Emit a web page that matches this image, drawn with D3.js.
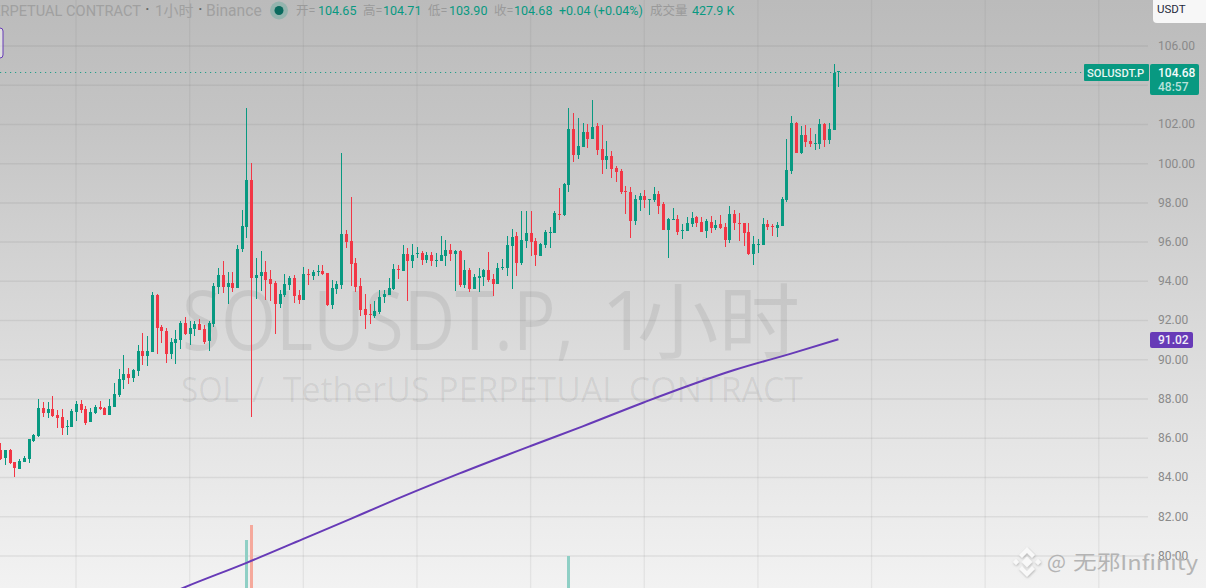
<!DOCTYPE html>
<html><head><meta charset="utf-8">
<script src="https://cdn.jsdelivr.net/npm/d3@7/dist/d3.min.js"></script>
<style>html,body{margin:0;padding:0;overflow:hidden;background:#eee}svg{display:block}</style>
</head><body><div id="chart"></div>
<script>
const firstIndex = -1;
const opens = [85.36,
84.97,85.36,84.75,84.42,84.75,84.90,85.82,86.07,87.50,87.25,
87.45,87.15,87.04,86.55,86.53,87.30,87.71,87.45,86.79,87.25,
87.55,87.50,87.15,87.55,88.17,88.93,89.24,89.04,89.39,90.41,
90.16,90.36,93.27,91.64,91.44,90.26,90.82,90.98,91.84,91.28,
91.54,91.79,91.54,90.92,91.80,93.67,94.28,93.67,93.88,93.62,
95.61,96.74,99.14,94.13,94.23,94.44,94.08,93.88,92.80,93.26,
93.77,94.13,93.26,93.01,94.34,94.23,94.44,94.49,94.39,92.75,
93.57,93.77,96.38,96.02,94.90,93.72,92.55,92.29,92.19,92.40,
93.16,93.26,93.57,94.59,94.49,95.36,95.00,95.36,95.40,95.05,
95.30,94.99,94.99,95.25,95.56,95.35,95.51,93.77,94.54,93.57,
94.13,94.18,94.54,94.08,93.82,94.64,94.64,95.76,96.27,94.89,
96.02,96.42,96.02,95.25,95.81,96.42,96.42,97.39,97.34,98.87,
101.73,100.40,100.81,101.58,101.22,101.88,100.71,100.15,100.35,99.74,
99.58,98.56,98.51,97.03,98.10,98.31,98.10,98.10,98.41,97.90,
96.57,97.08,97.13,96.52,96.52,96.88,97.24,96.98,96.52,96.98,
96.67,96.88,96.72,96.07,97.40,96.94,96.94,96.48,95.35,95.81,
95.81,96.89,96.78,96.68,96.78,98.11,99.59,102.04,100.51,101.43,
101.12,100.97,100.97,101.99,101.17,101.69,104.65];
const highs = [85.75,
85.39,85.41,84.75,84.93,85.05,85.92,86.18,87.96,87.81,87.81,
88.12,87.40,87.45,86.89,87.45,87.86,87.91,87.61,87.50,87.66,
87.86,87.55,87.96,88.78,89.50,90.21,89.55,89.50,90.72,91.33,
91.18,93.43,93.32,91.74,91.59,91.11,91.49,91.95,92.15,91.95,
91.95,92.05,91.74,91.95,93.88,94.64,95.00,94.44,94.44,95.82,
97.60,102.81,100.00,95.15,95.51,95.00,94.54,93.98,93.52,94.34,
94.23,94.28,93.52,94.69,94.59,94.54,94.80,94.80,94.39,94.03,
93.98,100.51,96.58,98.27,95.15,94.13,93.31,92.80,92.96,93.52,
93.52,94.13,94.85,94.80,95.82,95.66,95.87,95.71,95.51,95.45,
95.45,95.40,96.27,96.07,95.86,95.56,95.56,95.05,94.64,94.33,
94.64,94.59,95.45,94.33,94.89,95.10,96.27,96.63,96.48,97.55,
97.55,97.55,96.17,95.91,96.58,96.73,97.54,98.72,98.97,102.80,
102.55,102.29,102.04,101.98,103.21,102.04,101.93,101.12,100.61,99.84,
99.69,98.82,98.77,98.36,98.46,98.61,98.15,98.77,98.56,98.00,
97.18,97.69,97.34,96.88,97.24,97.49,97.29,97.24,97.13,97.29,
97.08,97.34,96.93,97.80,97.60,97.48,96.94,96.94,96.27,96.12,
97.19,97.09,96.89,96.99,98.26,101.23,102.40,102.09,101.89,101.94,
101.79,101.48,102.25,102.04,102.04,105.06,104.71];
const lows = [84.85,
84.59,84.66,84.00,84.39,84.75,84.71,85.78,86.02,87.04,86.99,
87.04,86.48,86.13,86.13,86.53,86.84,87.25,86.64,86.79,87.20,
87.40,87.15,87.15,87.55,88.07,88.47,88.73,88.83,89.14,89.70,
89.65,90.36,90.26,90.82,89.80,90.01,89.75,90.52,91.23,90.72,
91.18,91.49,90.77,90.41,91.65,93.31,93.37,92.80,93.42,93.62,
95.46,96.17,87.05,93.06,93.47,93.01,92.96,91.31,92.60,93.16,
93.52,92.85,92.80,93.01,93.77,94.03,94.23,94.28,92.70,92.55,
93.31,93.57,95.66,93.72,93.42,92.19,91.53,91.78,92.09,92.29,
92.85,93.26,93.52,94.08,94.49,92.96,94.64,95.15,94.79,94.89,
94.74,94.69,94.99,94.74,94.99,93.46,93.67,93.62,93.41,93.57,
93.41,93.72,93.92,93.21,93.82,94.54,94.23,93.57,94.23,94.79,
95.66,95.25,94.74,95.25,95.66,95.66,96.42,97.08,97.29,98.51,
100.04,100.20,100.81,100.76,101.22,100.40,99.43,99.69,99.23,99.02,
98.41,97.39,96.16,96.83,97.54,97.69,97.34,98.00,97.39,96.57,
95.19,97.08,96.32,96.11,96.52,96.72,96.72,96.47,96.16,96.42,
96.57,96.62,95.70,95.92,96.58,96.02,95.76,95.30,94.79,95.40,
95.81,96.58,96.27,96.22,96.78,98.01,99.44,100.51,100.46,100.82,
100.82,100.66,100.72,100.82,100.97,101.69,103.90];
const closes = [84.93,
85.36,84.71,84.44,84.80,84.95,85.92,86.13,87.50,87.25,87.45,
87.10,86.99,86.48,86.60,87.35,87.71,87.40,86.74,87.30,87.55,
87.45,87.15,87.61,88.22,88.98,89.24,89.04,89.44,90.41,90.16,
90.41,93.27,91.59,91.44,90.26,90.87,91.03,91.84,91.28,91.59,
91.79,91.49,90.87,91.84,93.72,94.28,93.67,93.88,93.62,95.61,
96.79,99.14,94.13,94.28,94.44,94.03,93.82,92.80,93.31,93.82,
94.13,93.21,93.01,94.34,94.28,94.44,94.49,94.34,92.75,93.62,
93.82,96.38,95.97,94.85,93.67,92.50,92.24,92.24,92.45,93.16,
93.31,93.62,94.59,94.54,95.36,95.00,95.31,95.41,95.05,95.30,
94.99,95.05,95.30,95.56,95.35,95.51,93.77,94.54,93.57,94.18,
94.23,94.54,94.02,93.82,94.64,94.69,95.81,96.22,94.89,96.07,
96.42,95.96,95.30,95.86,96.48,96.48,97.44,97.34,98.92,101.73,
100.40,100.86,101.58,101.22,101.83,100.66,100.15,100.35,99.69,99.53,
98.51,98.51,97.03,98.15,98.31,98.10,98.15,98.41,97.80,96.57,
97.13,97.13,96.47,96.57,96.93,97.18,96.93,96.47,97.03,96.67,
96.83,96.67,96.06,97.40,96.94,96.89,96.43,95.35,95.86,95.86,
96.89,96.73,96.73,96.83,98.16,99.64,102.04,100.51,101.43,101.07,
100.97,101.02,101.99,101.17,101.74,104.60,104.68];
const maIndex = [37,38,51,63,73,79,96,111,122,135,154,166,176];
const maValues = [78.28,78.38,79.62,80.84,81.86,82.49,84.18,85.58,86.58,87.81,89.45,90.29,91.02];
const volumeIndex = [51,52,119];
const volumeValues = [1100,1250,940];
const volumeUp = [true,false,true];
const priceTicks = [80,82,84,86,88,90,92,94,96,98,100,102,104,106];
const priceLabelled = [80,82,84,86,88,90,92,94,96,98,100,102,106];
const gridIndex = [15,39,63,87,111,135,159,183,207,231];
const legendParts = [
  ["开=",296,0],["104.65",318,1],["高=",363,0],["104.71",383,1],["低=",428,0],["103.90",449,1],
  ["收=",494,0],["104.68",514,1],["+0.04 (+0.04%)",559,1],["成交量",650,0],["427.9 K",692,1]
];

const W=1206,H=588,UP="#089981",DOWN="#f23645",MA="#673ab7";
const FONT="Roboto,'Noto Sans CJK SC',sans-serif";
const x=d3.scaleLinear().domain([0,176]).range([5,838.4]);
const y=d3.scaleLinear().domain([80,106]).range([555.4,45.5]);
const v=d3.scaleLinear().domain([0,1000]).range([650,550]);
const svg=d3.select("#chart").append("svg").attr("width",W).attr("height",H).attr("font-family",FONT);
const defs=svg.append("defs");
const grad=defs.append("linearGradient").attr("id","bg").attr("x1",0).attr("x2",0).attr("y1",0).attr("y2",1);
[[0,"#bbbbbb"],[.2,"#c4c4c4"],[.5,"#d6d6d6"],[.75,"#e5e5e5"],[1,"#f2f2f2"]].forEach(([o,c])=>grad.append("stop").attr("offset",o).attr("stop-color",c));
svg.append("rect").attr("width",W).attr("height",H).attr("fill","url(#bg)");

// vertical grid
svg.append("g").selectAll("line").data(gridIndex).join("line")
  .attr("x1",d=>x(d)).attr("x2",d=>x(d)).attr("y1",0).attr("y2",H)
  .attr("stroke","rgba(110,110,110,.1)").attr("stroke-width",1.3);

// price axis with horizontal grid
const axis=d3.axisRight(y).tickValues(priceTicks).tickSize(-1148).tickPadding(10)
  .tickFormat(d=>priceLabelled.includes(d)?d3.format(".2f")(d):"");
const ag=svg.append("g").attr("transform","translate(1148,0)").call(axis);
ag.select(".domain").remove();
ag.selectAll(".tick line").attr("stroke","rgba(110,110,110,.12)").attr("stroke-width",1.5);
ag.selectAll(".tick text").attr("fill","#8a8a8a").attr("font-size",12).attr("font-family",FONT);

// chart watermark
const wmFill="rgba(0,0,0,.07)";
const t1=svg.append("text").attr("y",350).attr("font-size",82).attr("fill",wmFill)
  .attr("font-family","'Open Sans','Noto Sans CJK SC',sans-serif");
t1.append("tspan").attr("x",182).attr("textLength",392).attr("lengthAdjust","spacingAndGlyphs").text("SOLUSDT.P,");
t1.append("tspan").attr("x",580).text(" 1");
t1.append("tspan").attr("x",637).attr("dy",2).attr("textLength",163).attr("lengthAdjust","spacingAndGlyphs").text("小时");
const t2=svg.append("text").attr("y",402).attr("font-size",34).attr("fill",wmFill).attr("font-family","'Open Sans',sans-serif");
t2.append("tspan").attr("x",181).attr("textLength",58).attr("lengthAdjust","spacingAndGlyphs").text("SOL");
t2.append("tspan").attr("x",243).text(" /");
t2.append("tspan").attr("x",274).attr("textLength",529).attr("lengthAdjust","spacingAndGlyphs").text(" TetherUS PERPETUAL CONTRACT");

// volume
svg.append("g").attr("shape-rendering","crispEdges").selectAll("rect").data(volumeIndex).join("rect")
  .attr("x",d=>Math.round(x(d))-1).attr("width",3)
  .attr("y",(d,i)=>v(volumeValues[i])).attr("height",(d,i)=>v(0)-v(volumeValues[i]))
  .attr("fill",(d,i)=>volumeUp[i]?"#8fcfc5":"#f5a99c");

// MA
svg.append("path").attr("fill","none").attr("stroke",MA).attr("stroke-width",2)
  .attr("d",d3.line().curve(d3.curveMonotoneX).x(d=>x(d)).y((d,i)=>y(maValues[i]))(maIndex));

// last price dotted line
const lastY=Math.ceil(y(closes[closes.length-1]))+.5;
svg.append("line").attr("x1",0).attr("x2",1084).attr("y1",lastY).attr("y2",lastY)
  .attr("stroke",UP).attr("stroke-opacity",.85).attr("stroke-dasharray","1.2 3.8");

// candles
const idx=d3.range(opens.length);
const c=svg.append("g").attr("shape-rendering","crispEdges").selectAll("g").data(idx).join("g")
  .attr("fill",i=>closes[i]>=opens[i]?UP:DOWN);
const cx=i=>Math.round(x(i+firstIndex));
c.append("rect").attr("x",i=>cx(i)-.5).attr("width",1).attr("y",i=>y(highs[i])).attr("height",i=>y(lows[i])-y(highs[i]));
c.append("rect").attr("x",i=>cx(i)-1.5).attr("width",3)
  .attr("y",i=>y(Math.max(opens[i],closes[i])))
  .attr("height",i=>Math.max(1,Math.abs(y(opens[i])-y(closes[i]))));

// header
const hc="#a0a0a0";
const ht=(s,xp,o={})=>svg.append("text").attr("x",xp).attr("y",o.y||16).attr("font-size",o.size||15).attr("fill",o.fill||hc).attr("text-anchor",o.anchor||"start").text(s);
ht("SOL / TetherUS PERPETUAL CONTRACT",141,{anchor:"end",size:14.6});
ht("·",145,{size:18,fill:"#666"});
ht("1小时",155);
ht("·",198,{size:18,fill:"#666"});
ht("Binance",206,{size:15.6});
svg.append("circle").attr("cx",279).attr("cy",10.5).attr("r",9).attr("fill","#089981").attr("opacity",.22);
svg.append("circle").attr("cx",279).attr("cy",10.5).attr("r",4.5).attr("fill","#0b6a5e");
legendParts.forEach(([s,xp,g])=>ht(s,xp,{size:12.5,y:15,fill:g?UP:"#9a9a9a"}));

// left widget fragment
svg.append("rect").attr("x",-8).attr("y",28).attr("width",11).attr("height",30).attr("rx",3).attr("fill","rgba(255,255,255,.5)").attr("stroke",MA).attr("stroke-width",1);

// right labels
svg.append("path").attr("d","M1153 0H1206V23H1157a4 4 0 0 1-4-4Z").attr("fill","#f7f7f7");
svg.append("text").attr("x",1157).attr("y",13).attr("font-size",11.5).attr("fill","#1f2a3c").text("USDT");
svg.append("rect").attr("x",1084).attr("y",64).attr("width",65).attr("height",17).attr("rx",1).attr("fill",UP);
svg.append("text").attr("x",1087).attr("y",77).attr("font-size",11.2).attr("font-weight",500).attr("fill","#e8f6f3").text("SOLUSDT.P");
svg.append("rect").attr("x",1150).attr("y",64).attr("width",49).attr("height",31).attr("rx",2).attr("fill",UP);
svg.append("text").attr("x",1158).attr("y",77).attr("font-size",12).attr("font-weight",500).attr("fill","#f4fbfa").text(d3.format(".2f")(closes[closes.length-1]));
svg.append("text").attr("x",1158).attr("y",91).attr("font-size",12).attr("font-weight",500).attr("fill","#b9e2db").text("48:57");
svg.append("rect").attr("x",1150).attr("y",332).attr("width",43).attr("height",16).attr("rx",2).attr("fill",MA);
svg.append("text").attr("x",1158).attr("y",344).attr("font-size",12).attr("font-weight",500).attr("fill","#f0ecf8").text(d3.format(".2f")(maValues[maValues.length-1]));

// source watermark
const shadow=defs.append("filter").attr("id","soft").attr("x","-20%").attr("y","-20%").attr("width","140%").attr("height","140%");
shadow.append("feDropShadow").attr("dx",.5).attr("dy",1).attr("stdDeviation",.8).attr("flood-color","#888").attr("flood-opacity",.6);
const wm=svg.append("g").attr("fill","#f8f8f8").attr("filter","url(#soft)");
[[1027,562,5.5],[1016,562,3.2],[1038,562,3.2]].forEach(([a,b,r])=>wm.append("path").attr("d",`M${a} ${b-r}L${a+r} ${b}L${a} ${b+r}L${a-r} ${b}Z`));
wm.append("path").attr("d","M1019 555L1027 547L1035 555L1032 558L1027 553L1022 558Z");
wm.append("path").attr("d","M1019 569L1027 577L1035 569L1032 566L1027 571L1022 566Z");
svg.append("text").attr("x",1047).attr("y",569).attr("font-size",20).attr("fill","#b4b4b4").attr("font-family","'Noto Sans CJK SC',sans-serif").text("@");
svg.append("text").attr("x",1073).attr("y",570).attr("font-size",20.5).attr("fill","#b4b4b4").attr("font-family","'Noto Sans CJK SC',sans-serif").attr("textLength",125).attr("lengthAdjust","spacingAndGlyphs").text("无邪Infinity");
</script></body></html>
